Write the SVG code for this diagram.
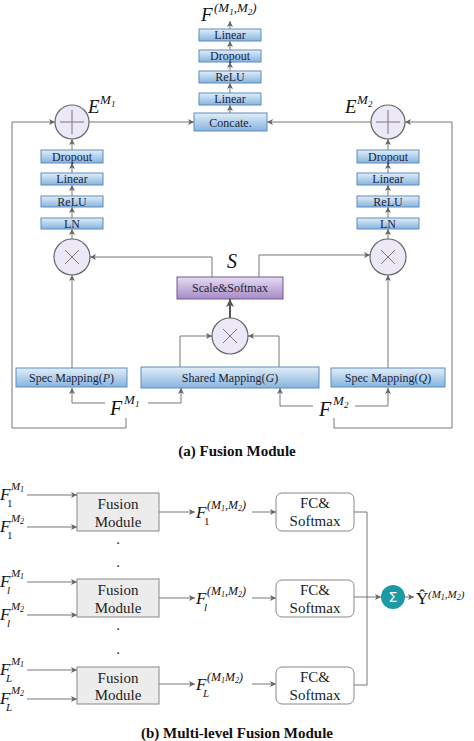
<svg xmlns="http://www.w3.org/2000/svg" width="474" height="741" viewBox="0 0 474 741">
<defs>
<linearGradient id="gb" x1="0" y1="0" x2="0" y2="1"><stop offset="0" stop-color="#e2eef8"/><stop offset="1" stop-color="#86b4de"/></linearGradient>
<linearGradient id="gp" x1="0" y1="0" x2="0" y2="1"><stop offset="0" stop-color="#e6dcf2"/><stop offset="1" stop-color="#a68ac6"/></linearGradient>
<marker id="ah" markerWidth="6" markerHeight="6" refX="6" refY="3" orient="auto" markerUnits="userSpaceOnUse"><path d="M0,0 L6,3 L0,6 L1.5,3 z" fill="#666"/></marker>
<marker id="ah2" markerWidth="8" markerHeight="8" refX="8" refY="4" orient="auto" markerUnits="userSpaceOnUse"><path d="M0,0 L8,4 L0,8 L2,4 z" fill="#555"/></marker>
</defs>
<style>
.bb{fill:url(#gb);stroke:#5e8cbc;stroke-width:1}
.pb{fill:url(#gp);stroke:#6e5a92;stroke-width:1}
.bt{font-family:"Liberation Serif",serif;font-size:12px;fill:#1a2438;text-anchor:middle}
.mt{font-family:"Liberation Serif",serif;font-style:italic;fill:#111}
.up{font-family:"Liberation Serif",serif;font-style:normal}
.c{fill:#ece8f8;stroke:#666;stroke-width:1.2}
.op{stroke:#777;stroke-width:1;fill:none}
.ln{stroke:#777;stroke-width:1;fill:none}
.la{stroke:#777;stroke-width:1;fill:none;marker-end:url(#ah)}
.fm{fill:#ececec;stroke:#888;stroke-width:1}
.fc{fill:#fff;stroke:#888;stroke-width:1}
.t14{font-family:"Liberation Serif",serif;font-size:15px;fill:#222;text-anchor:middle}
.cap{font-family:"Liberation Serif",serif;font-size:15px;font-weight:bold;fill:#111;text-anchor:middle}
</style>

<g id="connectors">
<line class="la" x1="230" y1="29" x2="230" y2="21"/>
<line class="la" x1="230" y1="50" x2="230" y2="41"/>
<line class="la" x1="230" y1="71" x2="230" y2="62"/>
<line class="la" x1="230" y1="93" x2="230" y2="83"/>
<line class="la" x1="230" y1="113" x2="230" y2="105"/>
<line class="la" x1="89" y1="122" x2="194" y2="122"/>
<line class="la" x1="371" y1="122" x2="267" y2="122"/>
<path class="la" d="M126,418 V428 H12 V122 H55"/>
<path class="la" d="M334,418 V428 H452 V122 H405"/>
<line class="la" x1="72" y1="150" x2="72" y2="139"/>
<line class="la" x1="72" y1="173" x2="72" y2="163"/>
<line class="la" x1="72" y1="196" x2="72" y2="185"/>
<line class="la" x1="72" y1="218" x2="72" y2="207"/>
<line class="la" x1="72" y1="239" x2="72" y2="229"/>
<line class="la" x1="388" y1="150" x2="388" y2="139"/>
<line class="la" x1="388" y1="173" x2="388" y2="163"/>
<line class="la" x1="388" y1="196" x2="388" y2="185"/>
<line class="la" x1="388" y1="218" x2="388" y2="207"/>
<line class="la" x1="388" y1="239" x2="388" y2="229"/>
<path class="la" d="M212,277 V257 H90"/>
<path class="la" d="M259,277 V255 H370"/>
<line class="la" x1="72" y1="368" x2="72" y2="275"/>
<line class="la" x1="388" y1="368" x2="388" y2="275"/>
<path class="la" d="M180,367 V336 H212"/>
<path class="la" d="M279,367 V336 H248"/>
<line x1="230" y1="318" x2="230" y2="299" stroke="#555" stroke-width="2" marker-end="url(#ah2)"/>
<path class="la" d="M105,403 H72 V388"/>
<path class="la" d="M148,403 H181 V388"/>
<path class="la" d="M313,406 H280 V388"/>
<path class="la" d="M355,406 H388 V388"/>

<line class="la" x1="27" y1="495" x2="77" y2="495"/>
<line class="la" x1="27" y1="527" x2="77" y2="527"/>
<line class="la" x1="159" y1="512" x2="195" y2="512"/>
<line class="la" x1="252" y1="512" x2="276" y2="512"/>
<line class="la" x1="27" y1="582" x2="77" y2="582"/>
<line class="la" x1="27" y1="615" x2="77" y2="615"/>
<line class="la" x1="159" y1="598" x2="195" y2="598"/>
<line class="la" x1="252" y1="598" x2="276" y2="598"/>
<line class="la" x1="27" y1="670" x2="77" y2="670"/>
<line class="la" x1="27" y1="699" x2="77" y2="699"/>
<line class="la" x1="159" y1="684" x2="195" y2="684"/>
<line class="la" x1="252" y1="684" x2="276" y2="684"/>
<path class="ln" d="M354,512 H367 V685 H354"/>
<line class="la" x1="354" y1="597" x2="381" y2="597"/>
<line class="la" x1="405" y1="597" x2="414" y2="597"/>
</g>

<g id="out-label">
<text class="mt" x="201" y="21" font-size="19">F<tspan x="214" y="12" font-size="13">(M</tspan><tspan font-size="9" dy="3">1</tspan><tspan font-size="13" dy="-3">,M</tspan><tspan font-size="9" dy="3">2</tspan><tspan font-size="13" dy="-3">)</tspan></text>
</g>
<g id="top-linear"><rect class="bb" x="199" y="29" width="62" height="12"/><text class="bt" x="230" y="39">Linear</text></g>
<g id="top-dropout"><rect class="bb" x="199" y="50" width="62" height="12"/><text class="bt" x="230" y="60">Dropout</text></g>
<g id="top-relu"><rect class="bb" x="199" y="71" width="62" height="12"/><text class="bt" x="230" y="81">ReLU</text></g>
<g id="top-linear2"><rect class="bb" x="199" y="93" width="62" height="12"/><text class="bt" x="230" y="103">Linear</text></g>
<g id="concate"><rect class="bb" x="194" y="113" width="73" height="18"/><text class="bt" x="230.5" y="126.5">Concate.</text></g>

<g id="plus-left"><circle class="c" cx="72" cy="122" r="17"/><path class="op" d="M60,122 H84 M72,110 V134"/>
<text class="mt" x="88" y="113" font-size="19">E<tspan x="100" y="104" font-size="13">M</tspan><tspan x="111" y="107" font-size="9">1</tspan></text></g>
<g id="plus-right"><circle class="c" cx="388" cy="122" r="17"/><path class="op" d="M376,122 H400 M388,110 V134"/>
<text class="mt" x="345" y="113" font-size="19">E<tspan x="357" y="104" font-size="13">M</tspan><tspan x="368" y="107" font-size="9">2</tspan></text></g>

<g id="left-dropout"><rect class="bb" x="41" y="150" width="62" height="13"/><text class="bt" x="72" y="160.5">Dropout</text></g>
<g id="left-linear"><rect class="bb" x="41" y="173" width="62" height="12"/><text class="bt" x="72" y="183">Linear</text></g>
<g id="left-relu"><rect class="bb" x="41" y="196" width="62" height="11"/><text class="bt" x="72" y="205.5">ReLU</text></g>
<g id="left-ln"><rect class="bb" x="41" y="218" width="62" height="11"/><text class="bt" x="72" y="227.5">LN</text></g>
<g id="right-dropout"><rect class="bb" x="357" y="150" width="62" height="13"/><text class="bt" x="388" y="160.5">Dropout</text></g>
<g id="right-linear"><rect class="bb" x="357" y="173" width="62" height="12"/><text class="bt" x="388" y="183">Linear</text></g>
<g id="right-relu"><rect class="bb" x="357" y="196" width="62" height="11"/><text class="bt" x="388" y="205.5">ReLU</text></g>
<g id="right-ln"><rect class="bb" x="357" y="218" width="62" height="11"/><text class="bt" x="388" y="227.5">LN</text></g>

<g id="times-left"><circle class="c" cx="72" cy="257" r="18"/><path class="op" d="M65,250 L79,264 M79,250 L65,264"/></g>
<g id="times-right"><circle class="c" cx="388" cy="257" r="18"/><path class="op" d="M381,250 L395,264 M395,250 L381,264"/></g>
<g id="s-label"><text class="mt" x="227" y="268" font-size="20">S</text></g>
<g id="scale-softmax"><rect class="pb" x="177" y="277" width="106" height="22"/><text class="bt" x="230" y="292">Scale&amp;Softmax</text></g>
<g id="times-mid"><circle class="c" cx="230" cy="336" r="18"/><path class="op" d="M223,329 L237,343 M237,329 L223,343"/></g>
<g id="spec-p"><rect class="bb" x="16" y="368" width="111" height="19"/><text class="bt" x="71.5" y="381.5">Spec Mapping(<tspan font-style="italic">P</tspan>)</text></g>
<g id="shared"><rect class="bb" x="141" y="367" width="178" height="21"/><text class="bt" x="230" y="381.5">Shared Mapping(<tspan font-style="italic">G</tspan>)</text></g>
<g id="spec-q"><rect class="bb" x="331" y="368" width="114" height="19"/><text class="bt" x="388" y="381.5">Spec Mapping(<tspan font-style="italic">Q</tspan>)</text></g>
<g id="fm1-label"><text class="mt" x="110" y="415" font-size="20">F<tspan x="124" y="404" font-size="13">M</tspan><tspan x="135" y="407" font-size="9">1</tspan></text></g>
<g id="fm2-label"><text class="mt" x="319" y="416" font-size="20">F<tspan x="333" y="405" font-size="13">M</tspan><tspan x="344" y="408" font-size="9">2</tspan></text></g>
<text class="cap" x="237" y="456">(a) Fusion Module</text>

<g id="in-labels">
<text class="mt" x="0" y="500" font-size="17">F<tspan x="11" y="490" font-size="11">M</tspan><tspan x="20" y="492" font-size="8">1</tspan><tspan class="up" x="7" y="507" font-size="11">1</tspan></text>
<text class="mt" x="0" y="532" font-size="17">F<tspan x="11" y="522" font-size="11">M</tspan><tspan x="20" y="524" font-size="8">2</tspan><tspan class="up" x="7" y="539" font-size="11">1</tspan></text>
<text class="mt" x="0" y="587" font-size="17">F<tspan x="11" y="577" font-size="11">M</tspan><tspan x="20" y="579" font-size="8">1</tspan><tspan x="7" y="594" font-size="11">l</tspan></text>
<text class="mt" x="0" y="620" font-size="17">F<tspan x="11" y="610" font-size="11">M</tspan><tspan x="20" y="612" font-size="8">2</tspan><tspan x="7" y="627" font-size="11">l</tspan></text>
<text class="mt" x="0" y="675" font-size="17">F<tspan x="11" y="665" font-size="11">M</tspan><tspan x="20" y="667" font-size="8">1</tspan><tspan x="6" y="682" font-size="11">L</tspan></text>
<text class="mt" x="0" y="704" font-size="17">F<tspan x="11" y="694" font-size="11">M</tspan><tspan x="20" y="696" font-size="8">2</tspan><tspan x="6" y="711" font-size="11">L</tspan></text>
</g>
<g id="fusion-1"><rect class="fm" x="77" y="493" width="82" height="38"/><text class="t14" x="118" y="509">Fusion</text><text class="t14" x="118" y="527">Module</text></g>
<g id="fusion-l"><rect class="fm" x="77" y="579" width="82" height="38"/><text class="t14" x="118" y="595">Fusion</text><text class="t14" x="118" y="613">Module</text></g>
<g id="fusion-L"><rect class="fm" x="77" y="667" width="82" height="37"/><text class="t14" x="118" y="683">Fusion</text><text class="t14" x="118" y="700">Module</text></g>
<g id="dots"><text class="t14" x="118" y="544">.</text><text class="t14" x="118" y="567">.</text><text class="t14" x="118" y="630">.</text><text class="t14" x="118" y="654">.</text></g>
<g id="mid-labels">
<text class="mt" x="196" y="518" font-size="17">F<tspan x="207" y="509" font-size="12">(M</tspan><tspan font-size="8" dy="2">1</tspan><tspan font-size="12" dy="-2">,M</tspan><tspan font-size="8" dy="2">2</tspan><tspan font-size="12" dy="-2">)</tspan><tspan class="up" x="204" y="525" font-size="11">1</tspan></text>
<text class="mt" x="196" y="604" font-size="17">F<tspan x="207" y="595" font-size="12">(M</tspan><tspan font-size="8" dy="2">1</tspan><tspan font-size="12" dy="-2">,M</tspan><tspan font-size="8" dy="2">2</tspan><tspan font-size="12" dy="-2">)</tspan><tspan x="204" y="611" font-size="11">l</tspan></text>
<text class="mt" x="196" y="690" font-size="17">F<tspan x="207" y="681" font-size="12">(M</tspan><tspan font-size="8" dy="2">1</tspan><tspan font-size="12" dy="-2">M</tspan><tspan font-size="8" dy="2">2</tspan><tspan font-size="12" dy="-2">)</tspan><tspan x="203" y="697" font-size="11">L</tspan></text>
</g>
<g id="fc-1"><rect class="fc" x="276" y="493" width="78" height="38" rx="6"/><text class="t14" x="315" y="508">FC&amp;</text><text class="t14" x="315" y="526">Softmax</text></g>
<g id="fc-l"><rect class="fc" x="276" y="580" width="78" height="37" rx="6"/><text class="t14" x="315" y="595">FC&amp;</text><text class="t14" x="315" y="613">Softmax</text></g>
<g id="fc-L"><rect class="fc" x="276" y="667" width="78" height="37" rx="6"/><text class="t14" x="315" y="682">FC&amp;</text><text class="t14" x="315" y="700">Softmax</text></g>
<g id="sum"><circle cx="393" cy="597" r="12" fill="#1b9aa6"/><text x="393" y="602" font-family="DejaVu Sans,sans-serif" font-size="14" fill="#fff" text-anchor="middle">Σ</text></g>
<g id="y-label"><text class="up" x="416" y="604" font-size="17" fill="#111">Ŷ<tspan font-style="italic" x="428" y="598" font-size="11">(M</tspan><tspan font-style="italic" font-size="8" dy="2">1</tspan><tspan font-style="italic" font-size="11" dy="-2">,M</tspan><tspan font-style="italic" font-size="8" dy="2">2</tspan><tspan font-style="italic" font-size="11" dy="-2">)</tspan></text></g>
<text class="cap" x="237" y="738">(b) Multi-level Fusion Module</text>
</svg>
